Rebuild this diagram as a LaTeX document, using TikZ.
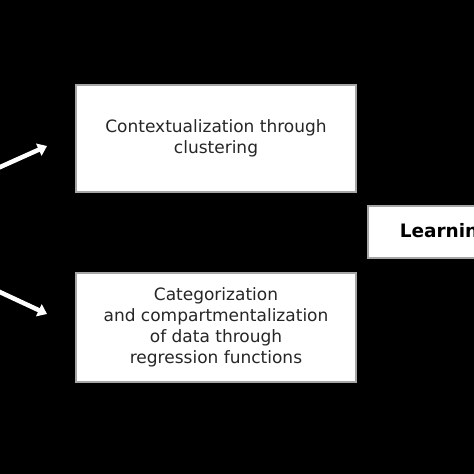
\documentclass[tikz,border=0pt]{standalone}
\usepackage{fontspec}
\setmainfont{DejaVu Sans}
\usetikzlibrary{arrows.meta}
\tikzset{
    stagebox/.style={draw=gray!70, line width=1.5pt, fill=white, text=black!85,
        minimum width=280pt, minimum height=107pt, align=center,
        font=\fontsize{17}{21}\selectfont},
    whitearrow/.style={white, line width=4.5pt, -{Triangle[length=9pt, width=13pt]}}
}
\begin{document}
    \begin{tikzpicture}[x=1pt, y=-1pt]
        \useasboundingbox[fill=black] (0,0) rectangle (474,474);
        \node[stagebox] (cluster) at (216,138.5) {Contextualization through\\clustering};
        \node[stagebox, minimum height=109pt] (regress) at (216,327.5)
            {Categorization\\and compartmentalization\\of data through\\regression functions};
        \node[draw=gray!70, line width=1.5pt, fill=white, anchor=west,
            minimum height=52pt, text width=120pt, inner xsep=32pt, align=left,
            font=\fontsize{18.5}{22}\bfseries\selectfont] (learn) at (367,232) {Learning};
        \coordinate (tailtop) at (-12,172.5);
        \coordinate (headtop) at (47,146);
        \coordinate (tailbot) at (-12,286.5);
        \coordinate (headbot) at (47,314);
        \draw[whitearrow] (tailtop) -- (headtop);
        \draw[whitearrow] (tailbot) -- (headbot);
    \end{tikzpicture}
\end{document}
